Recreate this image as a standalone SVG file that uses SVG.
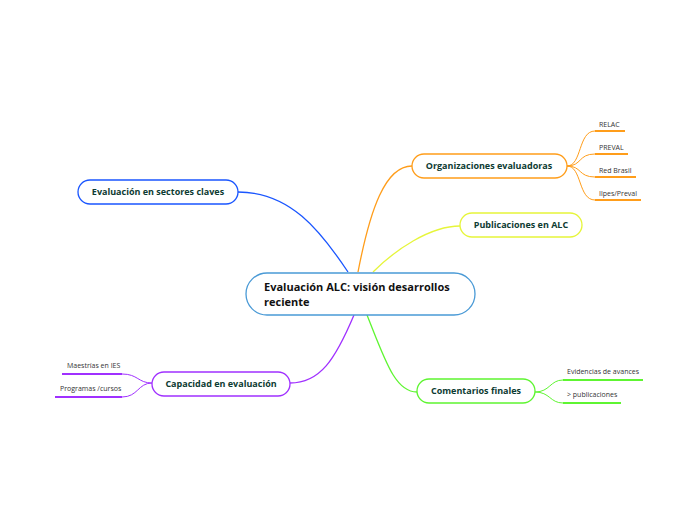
<svg xmlns="http://www.w3.org/2000/svg" width="697" height="520" viewBox="0 0 697 520">
<style>
text{font-family:"Open Sans","Noto Sans",sans-serif;fill:#333}
.n{font-size:9px;font-weight:bold;fill:#0d3b32}
.s{font-size:7px}
.c{fill:none;stroke-width:1.3}
.b{fill:#fff;stroke-width:1.3}
</style>
<rect width="697" height="520" fill="#fff"/>
<g id="connectors">
<path class="c" stroke="#1a56ff" d="M348,272 C320,230 290,192 238,192"/>
<path class="c" stroke="#ff9d1a" d="M358,272 C370,210 385,166 412,166"/>
<path class="c" stroke="#e6f53a" d="M373,272 C395,250 430,226 460,226"/>
<path class="c" stroke="#a030ff" d="M354,315 C335,360 320,383 290,383"/>
<path class="c" stroke="#5ef531" d="M367,315 C385,360 395,392 417,392"/>
<g stroke="#ff9d1a" fill="none" stroke-width="1">
<path d="M567,166 C582,166 578,131 595,131"/><path d="M567,166 C582,166 578,154 595,154"/>
<path d="M567,166 C582,166 578,177 595,177"/><path d="M567,166 C582,166 578,200 595,200"/>
</g>
<g stroke="#ff9d1a" stroke-width="2"><path d="M595,131H625M595,154H628M595,177H636M595,200H641"/></g>
<g stroke="#a030ff" fill="none" stroke-width="1"><path d="M152,383 C138,383 138,374 122,374"/><path d="M152,383 C138,383 138,397 122,397"/></g>
<g stroke="#a030ff" stroke-width="2"><path d="M62,374H122M55,397H122"/></g>
<g stroke="#5ef531" fill="none" stroke-width="1"><path d="M535,392 C550,392 550,380 563,380"/><path d="M535,392 C550,392 550,403 563,403"/></g>
<g stroke="#5ef531" stroke-width="2"><path d="M563,380H643M563,403H621"/></g>
</g>
<g id="root"><rect class="b" x="246" y="273" width="229" height="42" rx="21" stroke="#4a9ad6"/>
<text x="264" y="291" font-size="11" font-weight="bold" style="fill:#111">Evaluación ALC: visión desarrollos</text>
<text x="264" y="306" font-size="11" font-weight="bold" style="fill:#111">reciente</text></g>
<g id="n1"><rect class="b" x="78" y="180" width="160" height="24" rx="12" stroke="#1a56ff"/><text class="n" x="158" y="195" text-anchor="middle">Evaluación en sectores claves</text></g>
<g id="n2"><rect class="b" x="412" y="154" width="155" height="24" rx="12" stroke="#ff9d1a"/><text class="n" x="489" y="169" text-anchor="middle">Organizaciones evaluadoras</text></g>
<g id="n3"><rect class="b" x="460" y="213" width="122" height="24" rx="12" stroke="#e6f53a"/><text class="n" x="521" y="228" text-anchor="middle">Publicaciones en ALC</text></g>
<g id="n4"><rect class="b" x="152" y="372" width="138" height="24" rx="12" stroke="#a030ff"/><text class="n" x="221" y="387" text-anchor="middle">Capacidad en evaluación</text></g>
<g id="n5"><rect class="b" x="417" y="379" width="118" height="24" rx="12" stroke="#5ef531"/><text class="n" x="476" y="394" text-anchor="middle">Comentarios finales</text></g>
<g id="leaves">
<text class="s" x="599" y="127">RELAC</text><text class="s" x="599" y="150">PREVAL</text>
<text class="s" x="599" y="173">Red Brasil</text><text class="s" x="599" y="196">Ilpes/Preval</text>
<text class="s" x="67" y="368">Maestrías en IES</text><text class="s" x="60" y="391">Programas /cursos</text>
<text class="s" x="567" y="374">Evidencias de avances</text><text class="s" x="567" y="397">&gt; publicaciones</text>
</g>
</svg>
